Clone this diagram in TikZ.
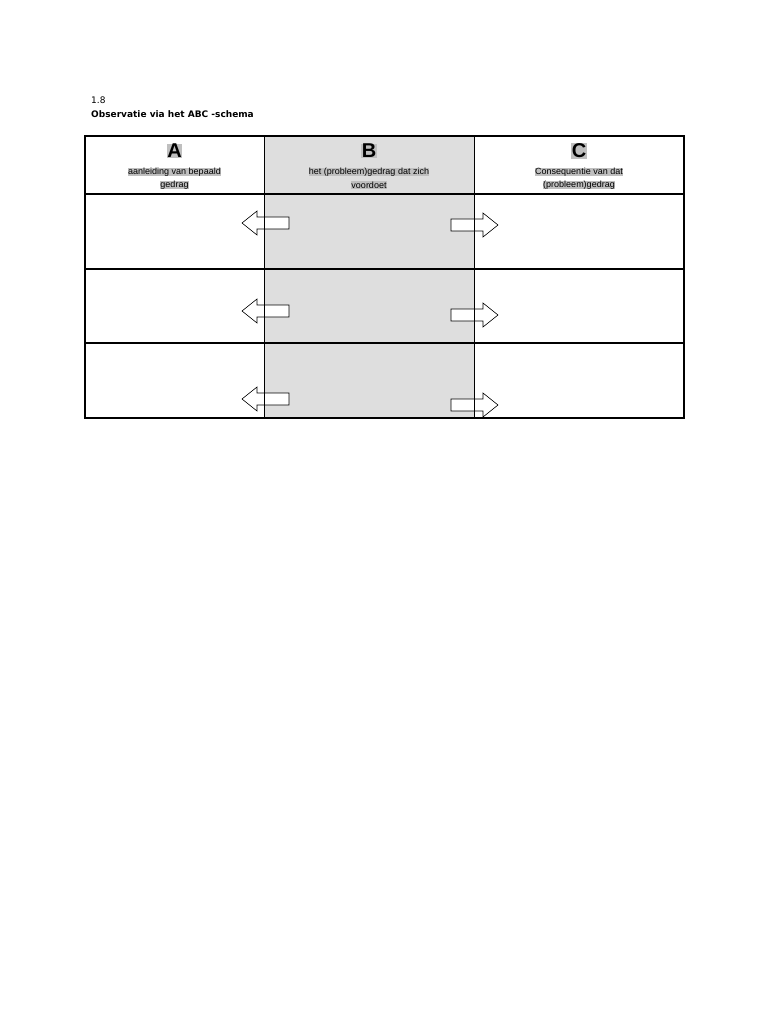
\documentclass[tikz,border=0pt]{standalone}
\usepackage{fontspec}
\setmainfont{DejaVu Sans}
\newfontfamily\cellfont{Liberation Sans}
\definecolor{shadeB}{gray}{0.87}
\definecolor{hl}{gray}{0.75}
\begin{document}
\begin{tikzpicture}[x=1pt,y=-1pt,
  grid/.style={line width=1.3pt},
  vline/.style={line width=1pt},
  arr/.style={draw,fill=white,line width=0.6pt},
  letter/.style={font=\cellfont\bfseries\fontsize{20}{20}\selectfont,fill=hl,inner sep=0.5pt},
  sub/.style={font=\cellfont\fontsize{9}{10}\selectfont,fill=hl,inner sep=0.3pt}]
\useasboundingbox (0,0) rectangle (768,1024);
\fill[white] (0,0) rectangle (768,1024);
\fill[shadeB] (264,136) rectangle (474,418);
\node[anchor=west,font=\fontsize{9}{10}\selectfont,inner sep=0] (num) at (91,100) {1.8};
\node[anchor=west,font=\bfseries\fontsize{9}{10}\selectfont,inner sep=0] (title) at (91,114) {Observatie via het ABC -schema};
% arrows
\foreach \y in {223,311,399}{
  \draw[arr] (289,\y-6) -- (257,\y-6) -- (257,\y-12) -- (242,\y) -- (257,\y+12) -- (257,\y+6) -- (289,\y+6) -- cycle;}
\foreach \y in {225,315,405}{
  \draw[arr] (451,\y-6) -- (483,\y-6) -- (483,\y-12) -- (498,\y) -- (483,\y+12) -- (483,\y+6) -- (451,\y+6) -- cycle;}
\draw[grid] (85,136) rectangle (684,418);
\foreach \y in {194,269,343} \draw[grid] (85,\y) -- (684,\y);
\draw[vline] (264,136) -- (264,418);
\draw[vline] (474,136) -- (474,418);
\node[letter] (A) at (174.5,151) {A};
\node[letter] (B) at (369,151) {B};
\node[letter] (C) at (579,151) {C};
\node[sub] (a1) at (174.5,172) {aanleiding van bepaald};
\node[sub] (a2) at (174.5,185) {gedrag};
\node[sub] (b1) at (369,172) {het (probleem)gedrag dat zich};
\node[sub] (b2) at (369,185) {voordoet};
\node[sub] (c1) at (579,172) {Consequentie van dat};
\node[sub] (c2) at (579,185) {(probleem)gedrag};
\end{tikzpicture}
\end{document}
